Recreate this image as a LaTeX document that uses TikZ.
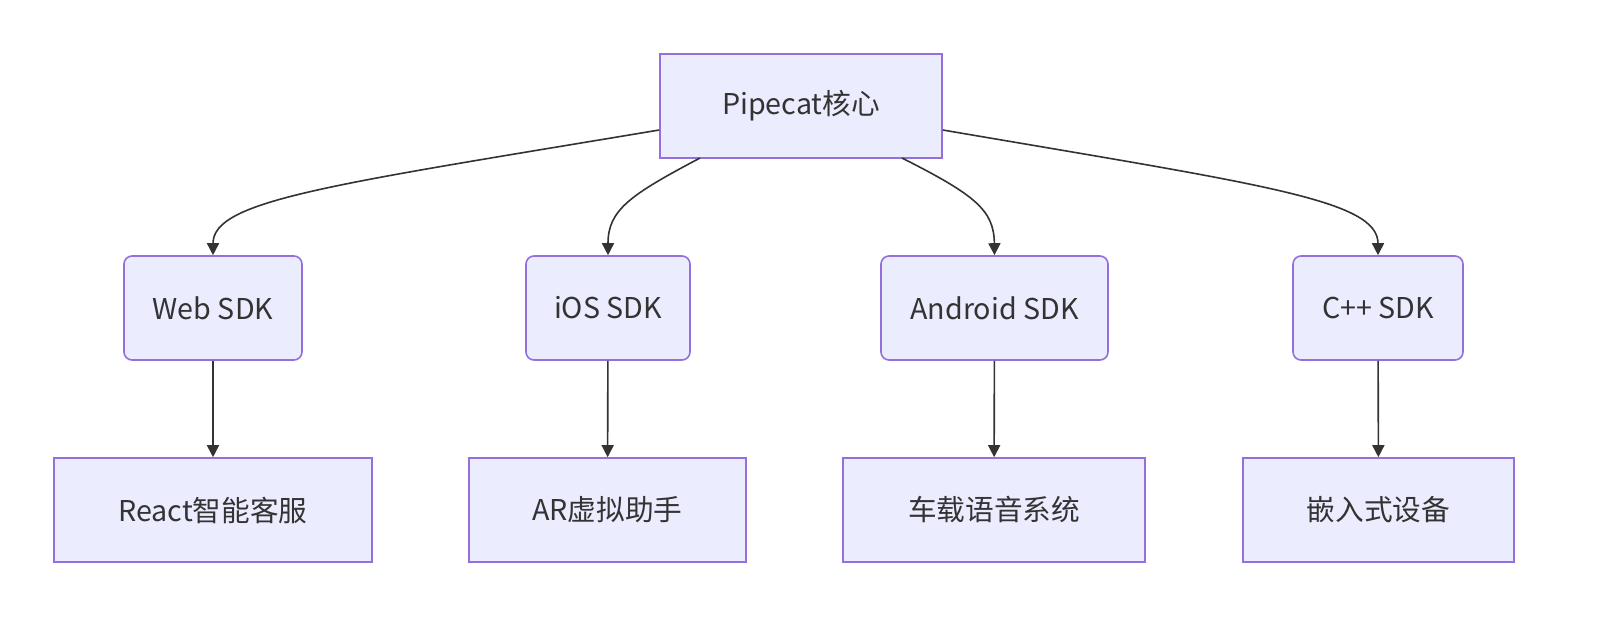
\documentclass[tikz,border=0pt]{standalone}
\usepackage{fontspec}
\setmainfont{Noto Sans CJK SC}
\usetikzlibrary{arrows.meta}
\definecolor{nfill}{HTML}{ECECFF}
\definecolor{nstroke}{HTML}{9370DB}
\definecolor{txt}{HTML}{333333}
\begin{document}
\begin{tikzpicture}[x=0.75pt,y=-0.75pt,
 box/.style={draw=nstroke,fill=nfill,line width=1.2pt,text=txt,font=\fontsize{21.5}{25}\selectfont,inner sep=0pt},
 rbox/.style={box,rounded corners=6pt},
 edge/.style={draw=txt,line width=1.2pt,-{Triangle[length=9pt,width=9pt]}}]
\useasboundingbox (0,0) rectangle (1617,636);
\node[box,minimum width=282*0.75pt,minimum height=104*0.75pt] (top) at (801,106) {Pipecat核心};
\node[rbox,minimum width=178*0.75pt,minimum height=104*0.75pt] (web) at (213,308) {Web SDK};
\node[rbox,minimum width=164*0.75pt,minimum height=104*0.75pt] (ios) at (608,308) {iOS SDK};
\node[rbox,minimum width=227*0.75pt,minimum height=104*0.75pt] (and) at (994.5,308) {Android SDK};
\node[rbox,minimum width=170*0.75pt,minimum height=104*0.75pt] (cpp) at (1378,308) {C++ SDK};
\node[box,minimum width=318*0.75pt,minimum height=104*0.75pt] (r) at (213,510) {React智能客服};
\node[box,minimum width=277*0.75pt,minimum height=104*0.75pt] (ar) at (607.5,510) {AR虚拟助手};
\node[box,minimum width=302*0.75pt,minimum height=104*0.75pt] (car) at (994,510) {车载语音系统};
\node[box,minimum width=271*0.75pt,minimum height=104*0.75pt] (emb) at (1378.5,510) {嵌入式设备};
\draw[edge] (top.west |- 0,130) .. controls (330,185) and (213,200) .. (web.north);
\draw[edge] (700,158) .. controls (630,195) and (608,210) .. (ios.north);
\draw[edge] (902,158) .. controls (975,195) and (994,210) .. (and.north);
\draw[edge] (top.east |- 0,130) .. controls (1265,185) and (1378,200) .. (cpp.north);
\draw[edge] (web) -- (r);
\draw[edge] (ios) -- (ar);
\draw[edge] (and) -- (car);
\draw[edge] (cpp) -- (emb);
\end{tikzpicture}
\end{document}
